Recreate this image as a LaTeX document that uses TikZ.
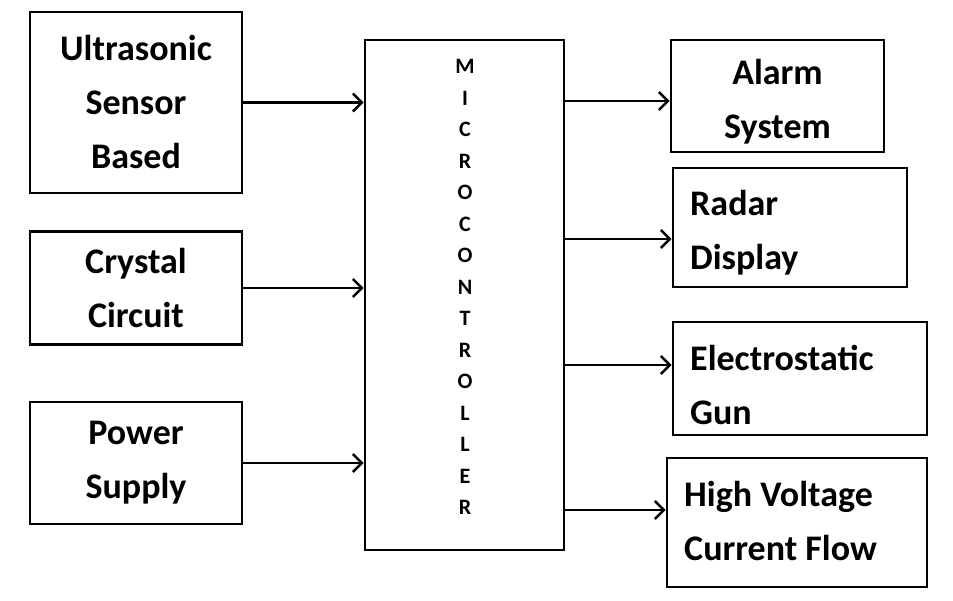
\documentclass[tikz,border=0pt]{standalone}
\usepackage{fontspec}
\setmainfont{Carlito}
\usetikzlibrary{arrows.meta}
\begin{document}
\begin{tikzpicture}[x=1pt,y=-1pt,
 box/.style={draw,line width=2.8pt,inner sep=0pt,font=\bfseries\fontsize{36}{54}\selectfont},
 cbox/.style={box,align=center},
 frame/.style={draw,line width=2.8pt,inner sep=0pt},
 ltext/.style={inner sep=0pt,anchor=west,align=flush left,font=\bfseries\fontsize{36}{54}\selectfont},
 arr/.style={line width=2.4pt,-{Straight Barb[length=9pt,width=18pt,line width=2.4pt]}}]
\useasboundingbox (0,0) rectangle (953,601);
\node[cbox,minimum width=212,minimum height=181] (u) at (136,102.5) {Ultrasonic\\Sensor\\Based};
\node[cbox,minimum width=212,minimum height=113] (c) at (136,288) {Crystal\\Circuit};
\node[cbox,minimum width=212,minimum height=122] (p) at (136,463) {Power\\Supply};
\node[frame,minimum width=199,minimum height=510] (m) at (464.5,295) {};
\node[font=\bfseries\fontsize{22}{31.5}\selectfont,align=center] (mt) at (465,287) {M\\I\\C\\R\\O\\C\\O\\N\\T\\R\\O\\L\\L\\E\\R};
\node[frame,minimum width=213,minimum height=112] (a) at (777.5,96) {};
\node[inner sep=0pt,align=center,font=\bfseries\fontsize{36}{54}\selectfont] (at) at (777.5,102) {Alarm\\System};
\node[frame,minimum width=234,minimum height=119] (r) at (790,227.5) {};
\node[ltext] (rt) at (690,233) {Radar\\Display};
\node[frame,minimum width=254,minimum height=113] (e) at (800,378.5) {};
\node[ltext] (et) at (690,385) {Electrostatic\\Gun};
\node[frame,minimum width=260,minimum height=129] (h) at (797,522.5) {};
\node[ltext] (ht) at (684,521) {High Voltage\\Current Flow};
\draw[arr] (u.east) -- (u.east -| m.west);
\draw[arr] (c.east |- 0,288) -- (m.west |- 0,288);
\draw[arr] (p.east) -- (p.east -| m.west);
\draw[arr] (m.east |- 0,101) -- (a.west |- 0,101);
\draw[arr] (m.east |- 0,239) -- (r.west |- 0,239);
\draw[arr] (m.east |- 0,365) -- (e.west |- 0,365);
\draw[arr] (m.east |- 0,510) -- (h.west |- 0,510);
\end{tikzpicture}
\end{document}
